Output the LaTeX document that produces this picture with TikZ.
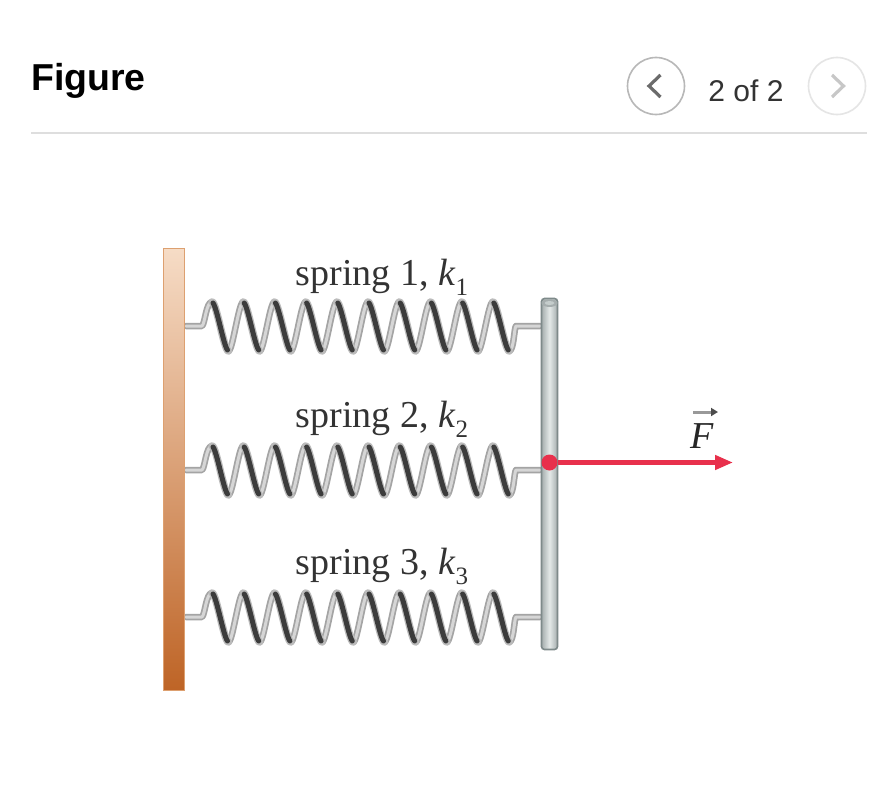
\documentclass[tikz,border=0pt]{standalone}
\usepackage{fontspec}
\setmainfont{Liberation Serif}
\newfontfamily\uisans{Liberation Sans}
\usetikzlibrary{arrows.meta}
\definecolor{wallTop}{HTML}{F6DCC6}
\definecolor{wallBot}{HTML}{BE6426}
\definecolor{wallEdge}{HTML}{DDA070}
\definecolor{barEdge}{HTML}{7E8A8A}
\definecolor{barMid}{HTML}{E4E9E8}
\definecolor{forceRed}{HTML}{E8304C}
\definecolor{inkDark}{HTML}{333333}
\definecolor{coilGray}{HTML}{A4A4A4}
\definecolor{coilInner}{HTML}{D6D6D6}
\definecolor{coilDark}{HTML}{3C3C3C}
\tikzset{
  lbl/.style={inner sep=0pt,anchor=base,font=\fontsize{38}{42}\selectfont,text=inkDark},
  navcircle/.style={circle,draw=#1,line width=1.6pt,minimum size=57pt,inner sep=0pt,fill=white},
  chevron/.style={draw=#1,line width=3.2pt,line join=miter},
  wallbox/.style={rectangle,draw=wallEdge,line width=1.4pt,inner sep=0pt,minimum width=21pt,minimum height=442pt,top color=wallTop,bottom color=wallBot},
  barbox/.style={rectangle,rounded corners=3pt,draw=barEdge,line width=1.6pt,inner sep=0pt,minimum width=16pt,minimum height=351pt,left color=barEdge!70!white,right color=barEdge!70!white,middle color=barMid},
  strandout/.style={draw=coilGray,line width=6.5pt,line cap=round,line join=round},
  strandin/.style={draw=coilInner,line width=3pt,line cap=round,line join=round},
  frontout/.style={draw=coilGray!75!white,line width=7.5pt,line cap=round},
  frontin/.style={draw=coilDark,line width=5pt,line cap=round},
}
% #1 = y of the leads
\newcommand{\coilspring}[1]{%
  \foreach \st in {strandout,strandin}{
    \draw[\st] (186,#1) -- (202,#1) .. controls (205,#1-2) and (206,#1-24) .. (212,#1-24);
    \draw[\st] (540,#1) -- (516,#1) .. controls (514,#1+2) and (514,#1+25) .. (509,#1+25);
    \foreach \i in {1,...,9}{
      \pgfmathsetmacro{\px}{212+31.2*\i}
      \draw[\st] (\px-14.7,#1+25) .. controls (\px-10.5,#1+25) and (\px-4.5,#1-24) .. (\px,#1-24);
    }
  }
  \foreach \i in {0,...,9}{
    \pgfmathsetmacro{\px}{212+31.2*\i}
    \draw[frontout] (\px,#1-24) .. controls (\px+4.5,#1-24) and (\px+12,#1+25) .. (\px+16.5,#1+25);
    \draw[frontin]  (\px+1,#1-23) .. controls (\px+5,#1-18) and (\px+11.5,#1+19) .. (\px+15.5,#1+24);
  }
}
\begin{document}
\begin{tikzpicture}[x=1pt,y=-1pt]
\useasboundingbox (0,0) rectangle (894,792);
\fill[white] (0,0) rectangle (894,792);
% header
\node[inner sep=0pt,anchor=base west,font=\uisans\bfseries\fontsize{37.5}{40}\selectfont] (title) at (31,91) {Figure};
\node[navcircle=black!28] (prev) at (656,86) {};
\node[navcircle=black!10] (next) at (837,86) {};
\draw[chevron=black!58] (660.5,75) -- (649,86) -- (660.5,97);
\draw[chevron=black!22] (832,75) -- (843.5,86) -- (832,97);
\node[inner sep=0pt,anchor=base,font=\uisans\fontsize{30}{34}\selectfont,text=inkDark] (count) at (746,101) {2 of 2};
\draw[black!13,line width=1.4pt] (31,133) -- (867,133);
% springs
\coilspring{326}
\coilspring{470}
\coilspring{617}
% wall and bar
\node[wallbox] (wall) at (174,469.5) {};
\node[barbox] (bar) at (549.5,474) {};
\fill[barEdge!70!white] (549.5,303) ellipse (8 and 4);
\fill[barMid!70!barEdge] (549.5,303) ellipse (5 and 2);
% labels
\node[lbl] (s1) at (382,285) {spring 1, \textit{k}\raisebox{-.27em}{\fontsize{25}{27}\selectfont 1}};
\node[lbl] (s2) at (382,427) {spring 2, \textit{k}\raisebox{-.27em}{\fontsize{25}{27}\selectfont 2}};
\node[lbl] (s3) at (382,574) {spring 3, \textit{k}\raisebox{-.27em}{\fontsize{25}{27}\selectfont 3}};
% force
\node[circle,fill=forceRed,minimum size=16pt,inner sep=0pt] (dot) at (549.5,462.5) {};
\coordinate (tip) at (733,462.5);
\draw[forceRed,line width=4.4pt,-{Triangle[length=18pt,width=14pt]}] (dot) -- (tip);
\node[lbl,text=black!85] (force) at (702,448) {\textit{F}};
\coordinate (va) at (693,412);
\coordinate (vb) at (718,412);
\draw[black!40,line width=3pt,-{Triangle[length=7pt,width=8pt,fill=black!70,color=black!70]}] (va) -- (vb);
\end{tikzpicture}
\end{document}
